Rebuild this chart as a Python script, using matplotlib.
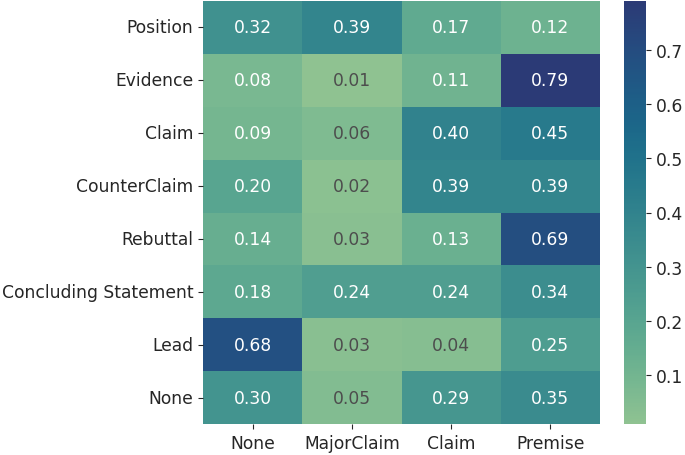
import numpy as np
import matplotlib
matplotlib.use("Agg")
import matplotlib.pyplot as plt
from matplotlib.colors import ListedColormap
import seaborn as sns

rows = ["Position", "Evidence", "Claim", "CounterClaim", "Rebuttal",
        "Concluding Statement", "Lead", "None"]
cols = ["None", "MajorClaim", "Claim", "Premise"]

position = [0.32, 0.39, 0.17, 0.12]
evidence = [0.08, 0.01, 0.11, 0.79]
claim = [0.09, 0.06, 0.40, 0.45]
counterclaim = [0.20, 0.02, 0.39, 0.39]
rebuttal = [0.14, 0.03, 0.13, 0.69]
concluding = [0.18, 0.24, 0.24, 0.34]
lead = [0.68, 0.03, 0.04, 0.25]
none_row = [0.30, 0.05, 0.29, 0.35]

data = np.array([position, evidence, claim, counterclaim, rebuttal,
                 concluding, lead, none_row])

# crest, trimmed a little at both ends
crest = sns.color_palette("crest", as_cmap=True)
cmap = ListedColormap(crest(np.linspace(0.08, 0.95, 256)))

fs = 12.3
plt.rcParams['font.family'] = 'DejaVu Sans'
plt.rcParams['font.size'] = fs
plt.rcParams['text.color'] = '0.15'
plt.rcParams['xtick.color'] = '0.15'
plt.rcParams['ytick.color'] = '0.15'
fig = plt.figure(figsize=(6.85, 4.56), dpi=100)
ax = fig.add_axes([203/685, 1 - 425/456, 397/685, 423/456])
cax = fig.add_axes([624/685, 1 - 425/456, 22/685, 423/456])

sns.heatmap(data, ax=ax, cbar_ax=cax, cmap=cmap, annot=True, fmt=".2f",
            xticklabels=cols, yticklabels=rows, annot_kws={"size": fs})
for t in ax.texts:
    if t.get_color() != 'w':
        t.set_color('0.3')
ax.tick_params(axis='y', rotation=0, labelsize=fs)
ax.tick_params(axis='x', rotation=0, labelsize=fs)
cax.tick_params(labelsize=fs)

fig.savefig("out.png", dpi=100)
